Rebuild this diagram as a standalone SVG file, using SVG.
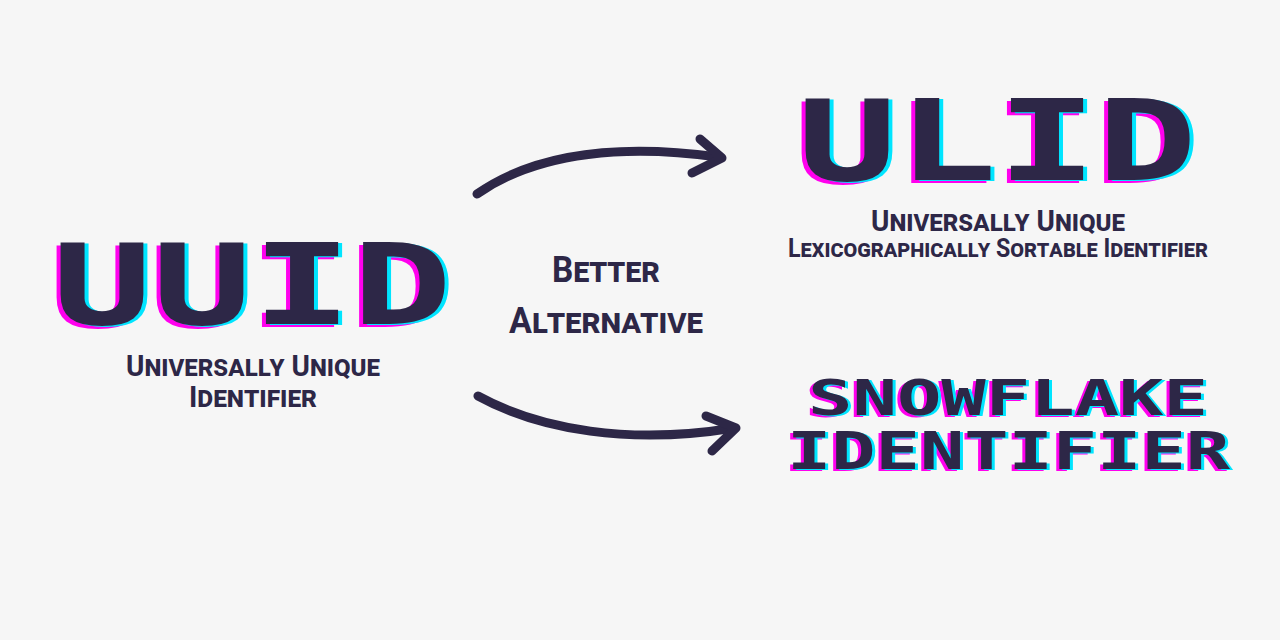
<svg xmlns="http://www.w3.org/2000/svg" width="1280" height="640" viewBox="0 0 1280 640">
<style>
.big{font-family:"DejaVu Sans Mono",monospace;font-weight:bold;}
.m{fill:#ff00ee}.c{fill:#00e5ff}.d{fill:#2d2747}
.sub{font-family:"Roboto","Liberation Sans",sans-serif;font-weight:bold;font-variant:small-caps;fill:#2d2747;text-anchor:middle}
.arr{fill:none;stroke:#2d2747;stroke-width:9;stroke-linecap:round;stroke-linejoin:round}
</style>
<rect width="1280" height="640" fill="#f6f6f6"/>
<g id="uuid">
<text class="big m" x="48" y="327" font-size="112" textLength="400" lengthAdjust="spacingAndGlyphs">UUID</text>
<text class="big c" x="56" y="325" font-size="112" textLength="400" lengthAdjust="spacingAndGlyphs">UUID</text>
<text class="big d" x="52" y="324" font-size="112" textLength="400" lengthAdjust="spacingAndGlyphs">UUID</text>
<text class="sub" x="253" y="376" font-size="30" textLength="254" lengthAdjust="spacingAndGlyphs">Universally Unique</text>
<text class="sub" x="253" y="407" font-size="30" textLength="128" lengthAdjust="spacingAndGlyphs">Identifier</text>
</g>
<g id="ulid">
<text class="big m" x="793" y="183" font-size="112" textLength="400" lengthAdjust="spacingAndGlyphs">ULID</text>
<text class="big c" x="801" y="181" font-size="112" textLength="400" lengthAdjust="spacingAndGlyphs">ULID</text>
<text class="big d" x="797" y="180" font-size="112" textLength="400" lengthAdjust="spacingAndGlyphs">ULID</text>
<text class="sub" x="998" y="231" font-size="30" textLength="254" lengthAdjust="spacingAndGlyphs">Universally Unique</text>
<text class="sub" x="998" y="257" font-size="25" textLength="420" lengthAdjust="spacingAndGlyphs">Lexicographically Sortable Identifier</text>
</g>
<g id="snowflake">
<text class="big m" x="805" y="417" font-size="50" textLength="400" lengthAdjust="spacingAndGlyphs">SNOWFLAKE</text>
<text class="big c" x="811" y="416" font-size="50" textLength="400" lengthAdjust="spacingAndGlyphs">SNOWFLAKE</text>
<text class="big d" x="808" y="415" font-size="50" textLength="400" lengthAdjust="spacingAndGlyphs">SNOWFLAKE</text>
<text class="big m" x="784" y="471" font-size="52" textLength="443" lengthAdjust="spacingAndGlyphs">IDENTIFIER</text>
<text class="big c" x="790" y="470" font-size="52" textLength="443" lengthAdjust="spacingAndGlyphs">IDENTIFIER</text>
<text class="big d" x="787" y="469" font-size="52" textLength="443" lengthAdjust="spacingAndGlyphs">IDENTIFIER</text>
</g>
<g id="label">
<text class="sub" x="606" y="282" font-size="36" textLength="108" lengthAdjust="spacingAndGlyphs">Better</text>
<text class="sub" x="606" y="333" font-size="36" textLength="194" lengthAdjust="spacingAndGlyphs">Alternative</text>
</g>
<g id="connectors">
<path class="arr" d="M477 194 C540 150 630 145 718 157"/>
<path class="arr" d="M700 139 L722 158 L692 173"/>
<path class="arr" d="M478 396 C540 430 630 445 734 428"/>
<path class="arr" d="M706 416 L736 428 L712 451"/>
</g>
</svg>
